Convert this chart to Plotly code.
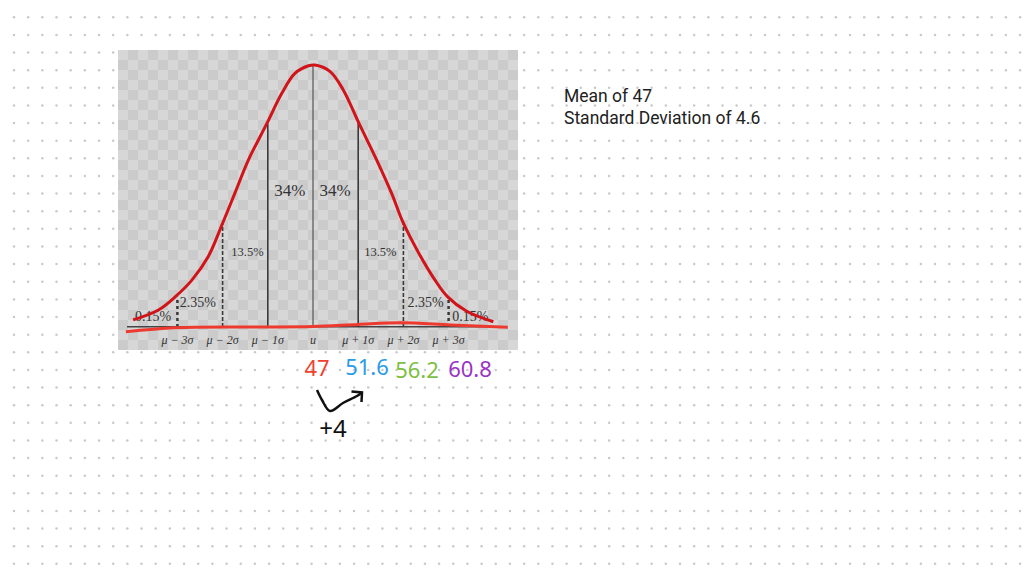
import numpy as np
import plotly.graph_objects as go

# bell curve as it is drawn in the picture
# z = distance from the mean in sigmas, h = height relative to the peak
curve_z = [-3.98, -3.42, -3.05, -2.68, -2.32, -2.0, -1.73, -1.43, -1.02, -0.69, -0.4, -0.1,
           0.04, 0.38, 0.67, 1.0, 1.41, 1.74, 1.99, 2.35, 2.7, 2.98, 3.4, 3.99]
curve_h = [0.027, 0.065, 0.115, 0.179, 0.268, 0.396, 0.51, 0.637, 0.777, 0.892, 0.968, 0.997,
           1.0, 0.975, 0.905, 0.784, 0.637, 0.51, 0.4, 0.279, 0.179, 0.115, 0.06, 0.02]

divider_z = [-3, -2, -1, 0, 1, 2, 3]
divider_h = [0.115, 0.396, 0.777, 1.0, 0.784, 0.4, 0.112]

pct_labels = ["0.15%", "2.35%", "13.5%", "34%", "34%", "13.5%", "2.35%", "0.15%"]
pct_z = [-3.54, -2.55, -1.45, -0.51, 0.49, 1.49, 2.49, 3.48]
pct_h = [0.036, 0.088, 0.282, 0.517, 0.517, 0.282, 0.088, 0.036]

tick_z = [-3, -2, -1, 0, 1, 2, 3]
tick_text = ["μ − 3σ", "μ − 2σ", "μ − 1σ", "u", "μ + 1σ", "μ + 2σ", "μ + 3σ"]

# red marker stroke over the axis line
red_base_z = [-4.14, -3.05, -1.39, 0.0, 1.0, 1.95, 3.05, 4.31]
red_base_h = [-0.018, -0.003, 0.0, 0.002, 0.01, 0.016, 0.008, -0.001]

mean = 47
sd = 4.6
hand_values = ["47", "51.6", "56.2", "60.8"]
hand_colors = ["#f0412f", "#2b9be6", "#7cc142", "#9a33c4"]

# pixel helpers for the picture area (x in sigmas, y in relative height)
Z0, SPX = 313, 45.2
H0, HPX = 327, 262
def zx(px):
    return (px - Z0) / SPX
def hy(py):
    return (H0 - py) / HPX

fig = go.Figure()

# whiteboard dot grid (page pixels)
gx, gy = np.meshgrid(14 + 14.17 * np.arange(72), 17.3 + 17.63 * np.arange(33))
fig.add_trace(go.Scatter(x=gx.ravel(), y=gy.ravel(), mode="markers",
                         marker=dict(size=2.5, color="#c9c9c9"), xaxis="x", yaxis="y",
                         hoverinfo="skip"))

# handwritten numbers below the picture
hand_px = [317, 367, 417, 470]
hand_py = [370, 369, 372, 371]
fig.add_trace(go.Scatter(x=hand_px, y=hand_py, mode="text", text=hand_values,
                         textfont=dict(family="Noto Sans", size=22, color=hand_colors),
                         xaxis="x", yaxis="y", hoverinfo="skip"))
fig.add_trace(go.Scatter(x=[333], y=[431], mode="text", text=["+4"],
                         textfont=dict(family="Noto Sans", size=24, color="#111"),
                         xaxis="x", yaxis="y", hoverinfo="skip"))
# arrow from 47 to 51.6
fig.add_trace(go.Scatter(x=[317, 322, 330, 343, 357, 362], y=[390, 400, 411, 403, 396, 392.5],
                         mode="lines", line=dict(color="#111", width=2.5, shape="spline"),
                         xaxis="x", yaxis="y", hoverinfo="skip"))
fig.add_trace(go.Scatter(x=[351.5, 362, 361.5], y=[391.5, 392.5, 402], mode="lines",
                         line=dict(color="#111", width=2.5), xaxis="x", yaxis="y",
                         hoverinfo="skip"))

# checkered background of the pasted picture
checker = np.indices((30, 40)).sum(axis=0) % 2
fig.add_trace(go.Heatmap(z=checker, x0=zx(123), dx=10 / SPX, y0=hy(345), dy=10 / HPX,
                         colorscale=[[0, "#cbcbcb"], [1, "#d7d7d7"]], showscale=False,
                         xaxis="x2", yaxis="y2", hoverinfo="skip"))

# axis line
fig.add_trace(go.Scatter(x=[zx(127), zx(505)], y=[0.001, 0.001], mode="lines",
                         line=dict(color="#444", width=1.5), xaxis="x2", yaxis="y2",
                         hoverinfo="skip"))

# sigma dividers
styles = {3: ("dot", 2.5), 2: ("4px,2px", 1.6), 1: ("solid", 1.6), 0: ("solid", 1.2)}
for z, h in zip(divider_z, divider_h):
    dash, w = styles[abs(z)]
    fig.add_trace(go.Scatter(x=[z, z], y=[0, h], mode="lines",
                             line=dict(color="#3a3a3a" if z else "#555", width=w, dash=dash),
                             xaxis="x2", yaxis="y2", hoverinfo="skip"))

fig.add_trace(go.Scatter(x=pct_z, y=pct_h, mode="text", text=pct_labels,
                         textfont=dict(family="Liberation Serif", color="#333",
                                       size=[14, 14, 12.5, 17, 17, 12.5, 14, 14]),
                         xaxis="x2", yaxis="y2", hoverinfo="skip"))

fig.add_trace(go.Scatter(x=curve_z, y=curve_h, mode="lines",
                         line=dict(color="#d0141a", width=3, shape="spline"),
                         xaxis="x2", yaxis="y2", hoverinfo="skip"))
fig.add_trace(go.Scatter(x=red_base_z, y=red_base_h, mode="lines",
                         line=dict(color="#ee3a2e", width=3, shape="spline"),
                         xaxis="x2", yaxis="y2", hoverinfo="skip"))

fig.add_annotation(x=562, y=96, xref="x", yref="y", xanchor="left", yanchor="middle",
                   text=f"Mean of {mean}", showarrow=False,
                   font=dict(family="Roboto", size=17.5, color="#222"))
fig.add_annotation(x=562, y=118, xref="x", yref="y", xanchor="left", yanchor="middle",
                   text=f"Standard Deviation of {sd}", showarrow=False,
                   font=dict(family="Roboto", size=17.5, color="#222"))

fig.update_layout(
    width=1024, height=576,
    margin=dict(l=0, r=0, t=0, b=0),
    paper_bgcolor="white", plot_bgcolor="rgba(0,0,0,0)",
    showlegend=False,
    xaxis=dict(domain=[0, 1], range=[0, 1024], visible=False),
    yaxis=dict(domain=[0, 1], range=[576, 0], visible=False),
    xaxis2=dict(domain=[118 / 1024, 518 / 1024], range=[zx(118), zx(518)],
                anchor="free", position=(576 - 327) / 576,
                tickvals=tick_z, ticktext=tick_text, ticks="outside", ticklen=2,
                tickcolor="rgba(0,0,0,0)",
                tickfont=dict(family="Liberation Serif", size=12, color="#333", style="italic"),
                showgrid=False, zeroline=False, showline=False),
    yaxis2=dict(domain=[(576 - 350) / 576, (576 - 50) / 576], range=[hy(350), hy(50)],
                anchor="x2", visible=False),
)

fig.write_html("out.html", config={"displayModeBar": False},
               post_script="document.body.style.margin = '0';")
